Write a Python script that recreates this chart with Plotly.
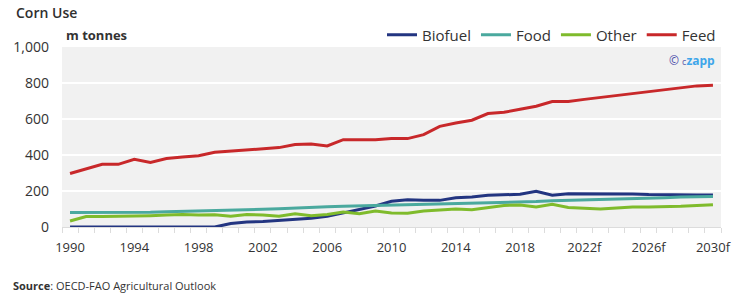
import plotly.graph_objects as go

years = list(range(1990, 2031))
tick_years = years[::4]
tick_labels = ["1990", "1994", "1998", "2002", "2006", "2010", "2014", "2018", "2022f", "2026f", "2030f"]

biofuel = [0, 0, 0, 0, 0, 0, 0, 0, 0, 0, 19, 28, 31, 37, 43, 48, 59, 78, 98, 117,
           143, 152, 148, 148, 163, 167, 176, 180, 182, 198, 176, 185, 185, 185, 185,
           183, 180, 178, 178, 178, 178]
food = [80, 80, 80, 80, 82, 82, 85, 87, 90, 91, 91, 94, 98, 102, 107, 111, 113, 115, 117, 119,
        120, 124, 126, 128, 130, 131, 133, 137, 139, 141, 146, 148, 152, 154, 155,
        157, 161, 163, 167, 168, 170]
other = [33, 58, 59, 59, 62, 63, 66, 70, 66, 68, 60, 69, 67, 60, 74, 63, 69, 83, 74, 89,
         78, 77, 89, 96, 100, 96, 106, 120, 122, 111, 126, 108, 104, 100, 106,
         111, 111, 111, 115, 120, 124]
feed = [297, 324, 348, 348, 376, 359, 380, 389, 396, 415, 422, 430, 435, 441, 458, 461, 450, 485, 485, 485,
        491, 491, 513, 559, 578, 593, 630, 637, 654, 671, 697, 697, 709, 720, 728,
        739, 752, 763, 774, 784, 787]

series = [("Biofuel", biofuel, "#233581"), ("Food", food, "#4aa99e"),
          ("Other", other, "#7fbb2c"), ("Feed", feed, "#c8282a")]

fig = go.Figure()
for name, vals, col in series:
    fig.add_trace(go.Scatter(x=years, y=vals, name=name, mode="lines",
                             line=dict(color=col, width=3)))

FONT = "Open Sans"
fig.update_layout(
    width=743, height=299,
    margin=dict(l=62, r=15, t=47, b=72),
    paper_bgcolor="white", plot_bgcolor="#f1f1f1",
    font=dict(family=FONT, size=13, color="#333333"),
    showlegend=True,
    legend=dict(orientation="h", x=1.0, xanchor="right", y=1.067, yanchor="middle",
                font=dict(size=15, color="#333333"), bgcolor="rgba(0,0,0,0)",
                itemwidth=30, tracegroupgap=0),
    xaxis=dict(range=[1989.5, 2030.5], tickmode="array", tickvals=tick_years,
               ticktext=tick_labels, showgrid=False, zeroline=False,
               showline=True, linecolor="#dcdcdc", linewidth=1,
               ticks="", ticklabelstandoff=8,
               tickfont=dict(size=13, color="#333333"),
               minor=dict(ticks="outside", tick0=1989.5, dtick=1, ticklen=5,
                          tickcolor="#dcdcdc", showgrid=False)),
    yaxis=dict(range=[0, 1000], dtick=200, tickformat=",", showgrid=True,
               gridcolor="white", gridwidth=1.5, zeroline=False, showline=False,
               ticks="", ticklabelstandoff=12,
               tickfont=dict(size=14, color="#333333")),
    annotations=[
        dict(text="Corn Use", xref="paper", yref="paper",
             x=(13 - 62) / 666, y=1 + (47 - 12) / 180, xanchor="left", yanchor="middle",
             showarrow=False, font=dict(size=14, color="#2f2f2f", family=FONT, weight=600)),
        dict(text="<b>m tonnes</b>", xref="paper", yref="paper",
             x=(64 - 62) / 666, y=1 + (47 - 35) / 180, xanchor="left", yanchor="middle",
             showarrow=False, font=dict(size=13, color="#333333", family=FONT)),
        dict(text="<span style='color:#4a4aa8'>©</span> <span style='color:#5a5aa8;font-size:9px'>c</span><span style='color:#3ea6ea'><b>zapp</b></span>",
             xref="paper", yref="paper", x=(724 - 62) / 666, y=(227 - 61) / 180,
             xanchor="right", yanchor="middle", showarrow=False,
             font=dict(size=12, family=FONT)),
        dict(text="<b>Source</b>: OECD-FAO Agricultural Outlook", xref="paper", yref="paper",
             x=(10 - 62) / 666, y=(227 - 285) / 180, xanchor="left", yanchor="middle",
             showarrow=False, font=dict(size=11, color="#333333", family=FONT)),
    ],
)

fig.write_html("out.html")
